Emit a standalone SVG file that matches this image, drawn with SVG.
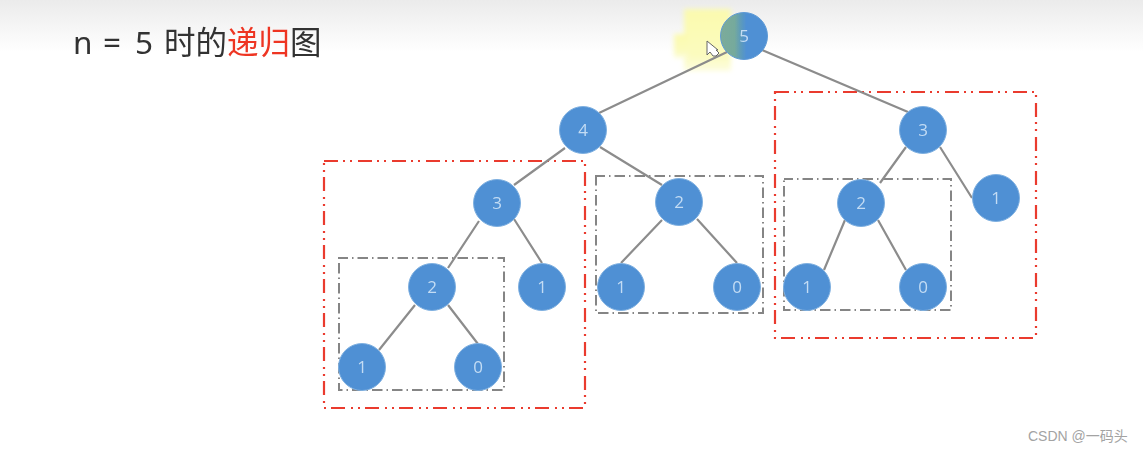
<svg xmlns="http://www.w3.org/2000/svg" width="1143" height="452" viewBox="0 0 1143 452">
<style>
.e{stroke:#8c8c8c;stroke-width:2.200;fill:none}
.r{fill:none;stroke:#ea3a2e;stroke-width:2.200;stroke-dasharray:14 5 2 5 2 6}
.g{fill:none;stroke:#858585;stroke-width:2;stroke-dasharray:9 4 1.500 4 1.500 0}
.c{fill:#4f90d4;stroke:#7fb0e0;stroke-width:1}
.l{font:17px "Open Sans","Liberation Sans",sans-serif;fill:#c3dcf4;text-anchor:middle}
.t{font:31.500px "Noto Sans","Noto Sans CJK SC",sans-serif;fill:#333}
</style>
<defs>
<linearGradient id="top" x1="0" y1="0" x2="0" y2="1"><stop offset="0" stop-color="#ebebeb"/><stop offset="1" stop-color="#fff"/></linearGradient>
<linearGradient id="hl" x1="0" y1="0" x2="1" y2="0"><stop offset="0" stop-color="#7cab9a"/><stop offset="0.3" stop-color="#76aa9c"/><stop offset="0.42" stop-color="#5f9cb8"/><stop offset="0.55" stop-color="#4f90d4"/><stop offset="1" stop-color="#4f90d4"/></linearGradient>
<linearGradient id="y" x1="0" y1="0" x2="0" y2="1"><stop offset="0" stop-color="#fbfaae"/><stop offset="0.75" stop-color="#fbfbbe"/><stop offset="1" stop-color="#fdfde0"/></linearGradient>
<filter id="b" x="-30%" y="-30%" width="160%" height="160%"><feGaussianBlur stdDeviation="2.500"/></filter>
<filter id="s" x="-5%" y="-5%" width="110%" height="110%"><feGaussianBlur stdDeviation="0.500"/></filter>
</defs>
<rect width="1143" height="452" fill="#fff"/>
<rect width="1143" height="52" fill="url(#top)"/>
<g id="highlight" filter="url(#b)" fill="url(#y)"><rect x="684" y="9" width="47" height="62"/><rect x="674" y="34" width="14" height="24"/></g>
<g filter="url(#s)">
<text class="t" x="73" y="54">n</text>
<text class="t" x="103" y="54">=</text>
<text class="t" x="135" y="54">5</text>
<text class="t" x="164" y="54">时的<tspan fill="#ee3524">递归</tspan>图</text>
</g>
<g id="frames" filter="url(#s)">
<rect class="r" x="324" y="161" width="261" height="247"/>
<rect class="r" x="775" y="92" width="261" height="246"/>
<rect class="g" x="339" y="258" width="165" height="132"/>
<rect class="g" x="596" y="176" width="167" height="137"/>
<rect class="g" x="784" y="179" width="167" height="131"/>
</g>
<g id="connectors" filter="url(#s)">
<path class="e" d="M727 52 599 113M762 50 908 112M565 148 514 185M600 147 662 185M906 147 880 183M940 147 972 198M479 221 448 268M514 219 542 263M415 305 379 350M448 305 478 344M662 220 621 263M697 219 737 263M845 220 824 270M878 220 906 270"/>
</g>
<g id="nodes" filter="url(#s)">
<g id="n5"><circle cx="744" cy="36" r="23.500" fill="url(#hl)" stroke="#5f9bd6"/><text class="l" x="744" y="42">5</text></g>
<g id="n4"><circle class="c" cx="583" cy="130" r="23.500"/><text class="l" x="583" y="136">4</text></g>
<g id="n3a"><circle class="c" cx="923" cy="130" r="23.500"/><text class="l" x="923" y="136">3</text></g>
<g id="n3b"><circle class="c" cx="497" cy="203" r="23.500"/><text class="l" x="497" y="209">3</text></g>
<g id="n2a"><circle class="c" cx="679" cy="202" r="23.500"/><text class="l" x="679" y="208">2</text></g>
<g id="n2b"><circle class="c" cx="861" cy="203" r="23.500"/><text class="l" x="861" y="209">2</text></g>
<g id="n1a"><circle class="c" cx="996" cy="198" r="23.500"/><text class="l" x="996" y="204">1</text></g>
<g id="n2c"><circle class="c" cx="432" cy="287" r="23.500"/><text class="l" x="432" y="293">2</text></g>
<g id="n1b"><circle class="c" cx="542" cy="287" r="23.500"/><text class="l" x="542" y="293">1</text></g>
<g id="n1c"><circle class="c" cx="621" cy="287" r="23.500"/><text class="l" x="621" y="293">1</text></g>
<g id="n0a"><circle class="c" cx="737" cy="287" r="23.500"/><text class="l" x="737" y="293">0</text></g>
<g id="n1d"><circle class="c" cx="807" cy="287" r="23.500"/><text class="l" x="807" y="293">1</text></g>
<g id="n0b"><circle class="c" cx="923" cy="287" r="23.500"/><text class="l" x="923" y="293">0</text></g>
<g id="n1e"><circle class="c" cx="362" cy="367" r="23.500"/><text class="l" x="362" y="373">1</text></g>
<g id="n0c"><circle class="c" cx="478" cy="367" r="23.500"/><text class="l" x="478" y="373">0</text></g>
</g>
<path id="cursor" d="M707 41V55L710 52 713 56 716 56 719 53 716 50 718 50Z" fill="#fff" stroke="#666"/>
<text x="1028" y="441" font-family="Liberation Sans,Noto Sans CJK SC,sans-serif" font-size="14" fill="#a3a3a3">CSDN @一码头</text>
</svg>
